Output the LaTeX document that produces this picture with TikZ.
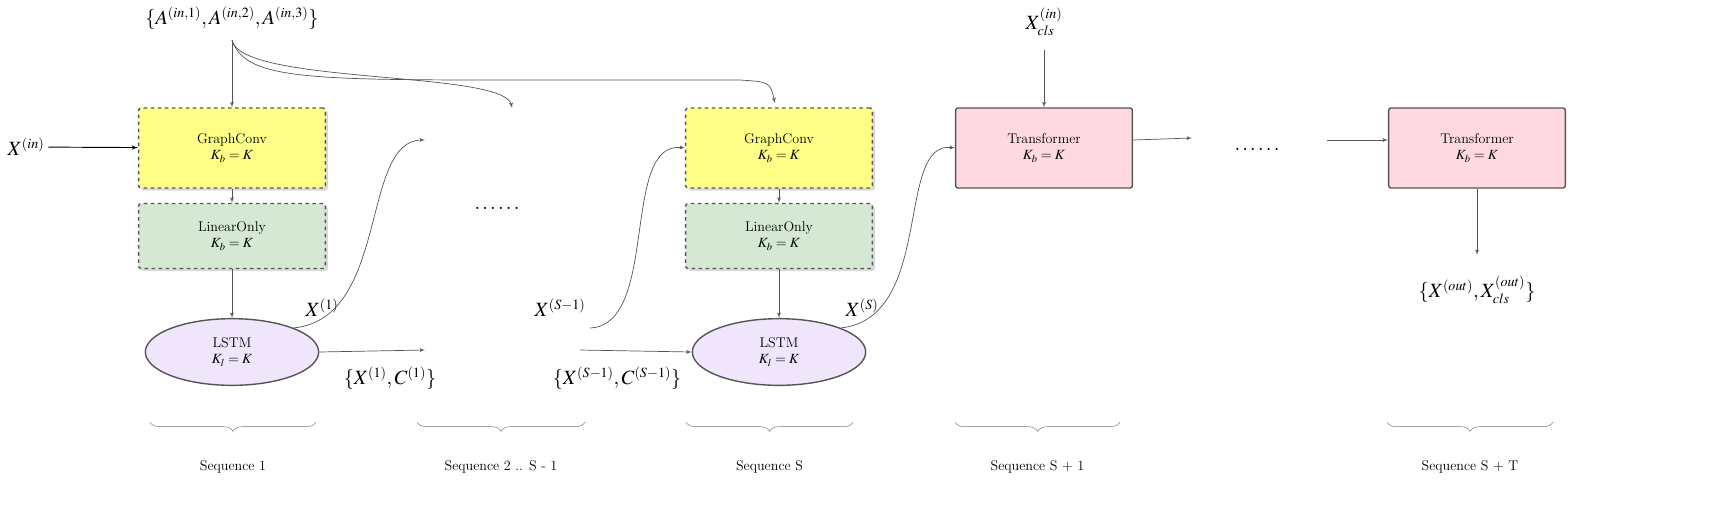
\documentclass[tikz,border=0pt]{standalone}
\usepackage{fontspec}
\setmainfont{Liberation Serif}
\usepackage{mathptmx}
\usetikzlibrary{shapes,arrows,calc,shadows,decorations.pathreplacing}
\definecolor{gcfill}{HTML}{FFFF88}
\definecolor{lofill}{HTML}{D5E8D4}
\definecolor{lsfill}{HTML}{F0E6FC}
\definecolor{trfill}{HTML}{FFD9E1}
\definecolor{edge}{HTML}{555555}
\tikzstyle{line} = [draw=edge, semithick, -latex']
\tikzstyle{dblock} = [draw=edge, very thick, dashed, rectangle, align=center, rounded corners=2pt,
                      font=\large, minimum width=5.6cm, drop shadow={opacity=0.3}]
\tikzstyle{cell} = [draw=edge, very thick, ellipse, align=center, font=\large,
                    minimum width=5.2cm, minimum height=2cm]
\tikzstyle{tblock} = [draw=edge, very thick, rectangle, align=center, rounded corners=2pt, font=\large,
                      fill=trfill, minimum width=5.3cm, minimum height=2.4cm]
\tikzstyle{lbl} = [font=\LARGE]
\tikzstyle{seq} = [font=\large]
\tikzstyle{brc} = [draw=edge!80, decorate, decoration={brace, mirror, amplitude=8pt}]
\begin{document}
\begin{tikzpicture}[x=0.03cm, y=-0.03cm]
        % sequence 1
        \node[lbl] (adj) at (232,18) {$\{A^{(in,1)},A^{(in,2)},A^{(in,3)}\}$};
        \coordinate (adjout) at (232,40);
        \node[dblock, fill=gcfill, minimum height=2.4cm] (gc1) at (232,148) {GraphConv\\$K_b=K$};
        \node[dblock, fill=lofill, minimum height=1.95cm] (lo1) at (232,236) {LinearOnly\\$K_b=K$};
        \node[cell, fill=lsfill] (ls1) at (232,352) {LSTM\\$K_l=K$};
        \node[lbl] (xin) at (26,147) {$X^{(in)}$};
        % sequence 2 .. S-1
        \node[lbl] (dots1) at (497,209) {$\cdots\cdots$};
        \coordinate (mid) at (512,108);
        \coordinate (x1end) at (425,140);
        \coordinate (c1end) at (425,350);
        \coordinate (xsmstart) at (590,328);
        \coordinate (csmstart) at (580,350);
        \node[lbl] (x1) at (322,308) {$X^{(1)}$};
        \node[lbl] (c1) at (390,378) {$\{X^{(1)},C^{(1)}\}$};
        \node[lbl] (xsm) at (560,308) {$X^{(S-1)}$};
        \node[lbl] (csm) at (617,378) {$\{X^{(S-1)},C^{(S-1)}\}$};
        % sequence S
        \node[dblock, fill=gcfill, minimum height=2.4cm] (gc2) at (779,148) {GraphConv\\$K_b=K$};
        \node[dblock, fill=lofill, minimum height=1.95cm] (lo2) at (779,236) {LinearOnly\\$K_b=K$};
        \node[cell, fill=lsfill] (ls2) at (779,352) {LSTM\\$K_l=K$};
        \node[lbl] (xs) at (862,308) {$X^{(S)}$};
        % transformers
        \node[tblock] (tr1) at (1044,148) {Transformer\\$K_b=K$};
        \node[lbl] (xcls) at (1044,22) {$X_{cls}^{(in)}$};
        \coordinate (xclsout) at (1044,50);
        \node[lbl] (dots2) at (1257,150) {$\cdots\cdots$};
        \coordinate (tr1end) at (1192,138);
        \coordinate (tr2start) at (1327,140);
        \node[tblock] (tr2) at (1477,148) {Transformer\\$K_b=K$};
        \coordinate (outend) at (1477,255);
        \node[lbl] (out) at (1477,290) {$\{X^{(out)},X_{cls}^{(out)}\}$};
        % connectors
        \path[line, black, thick] (xin) -- (gc1);
        \path[line] (adjout) -- (gc1);
        \path[line] (adjout) .. controls (240,85) and (505,70) .. (mid);
        \path[line] (adjout) .. controls (245,78) and (300,80) .. (500,80) -- (740,80) .. controls (770,82) .. (775,103);
        \path[line] (gc1) -- (lo1);
        \path[line] (lo1) -- (ls1);
        \path[line] (ls1.north east) .. controls (390,318) and (360,140) .. (x1end);
        \path[line] (ls1.east) -- (c1end);
        \path[line] (xsmstart) .. controls (660,325) and (620,140) .. (gc2.west);
        \path[line] (csmstart) -- (ls2.west);
        \path[line] (gc2) -- (lo2);
        \path[line] (lo2) -- (ls2);
        \path[line] (ls2.north east) .. controls (935,318) and (895,140) .. (tr1.west);
        \path[line] (xclsout) -- (tr1);
        \path[line] ($(tr1.east)+(0,-8)$) -- (tr1end);
        \path[line] (tr2start) -- ($(tr2.west)+(0,-8)$);
        \path[line] (tr2) -- (outend);
        % sequence braces
        \foreach \a/\b/\t in {150/316/Sequence 1, 417/585/Sequence 2 .. S - 1, 686/853/Sequence S,
                              955/1120/Sequence S + 1, 1387/1553/Sequence S + T} {
            \draw[brc] (\a,422) -- (\b,422);
            \node[seq] at ({(\a+\b)/2},467) {\t};
        }
        \pgfresetboundingbox
        \useasboundingbox (0,0) rectangle (1714,521);
    \end{tikzpicture}
\end{document}
